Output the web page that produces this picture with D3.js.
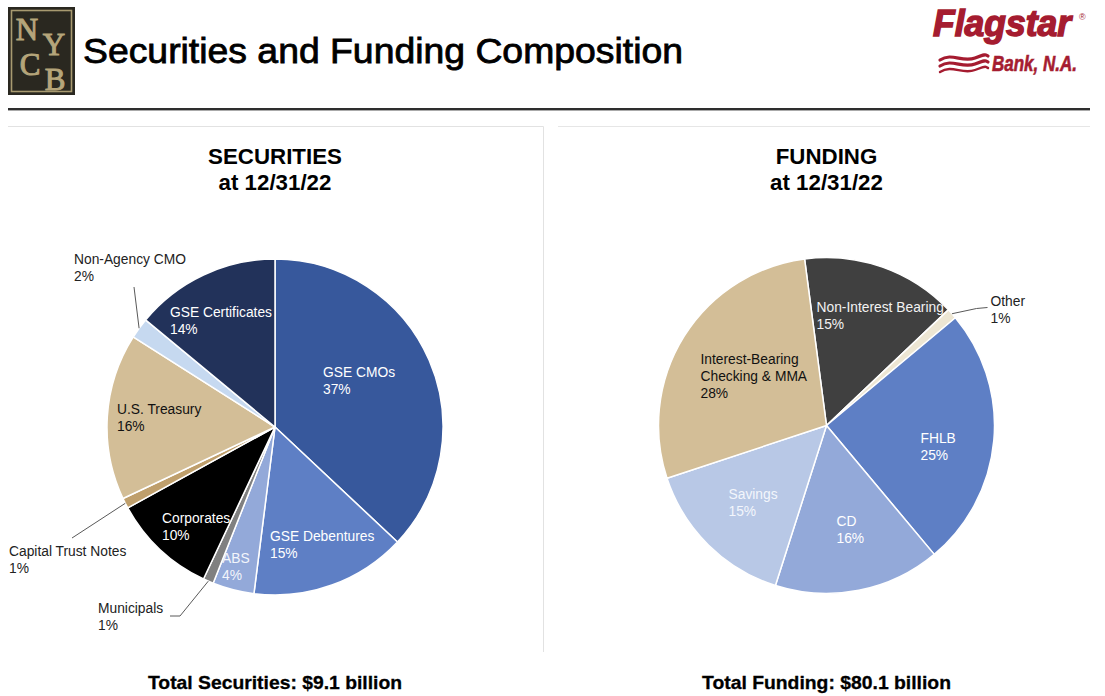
<!DOCTYPE html>
<html><head><meta charset="utf-8">
<script src="https://cdn.jsdelivr.net/npm/d3@7"></script>
<style>
html,body{margin:0;padding:0;background:#fff;}
svg{display:block;font-family:"Liberation Sans",Arial,sans-serif;}
</style></head>
<body>
<svg id="c" width="1105" height="696"></svg>
<script>
// ---------- DATA ----------
const securitiesCategories = ["GSE CMOs","GSE Debentures","ABS","Municipals","Corporates","Capital Trust Notes","U.S. Treasury","Non-Agency CMO","GSE Certificates"];
const securitiesValues = [37,15,4,1,10,1,16,2,14];
const fundingCategories = ["Non-Interest Bearing","Other","FHLB","CD","Savings","Interest-Bearing Checking & MMA"];
const fundingValues = [15,1,25,16,15,28];
const pageTitle = "Securities and Funding Composition";
const securitiesTitle = ["SECURITIES","at 12/31/22"];
const fundingTitle = ["FUNDING","at 12/31/22"];
const securitiesTotal = "Total Securities: $9.1 billion";
const fundingTotal = "Total Funding: $80.1 billion";

// ---------- STYLE / LAYOUT ----------
const secColors = ["#37589c","#5e7fc5","#93a9d9","#808080","#000000","#bf9f6c","#d3be97","#c6d9f0","#22325a"];
const funColors = ["#404040","#ede6d3","#5e7fc5","#93a9d9","#b8c8e6","#d3be97"];
const secLabelColors = ["#fff","#fff","#f2f5fb","#222","#fff","#222","#111","#222","#fff"];
const funLabelColors = ["#f2f2f2","#222","#fff","#fff","#f3f6fc","#111"];
// label text positions relative to pie centre (first baseline), line lists
const secLabelLayout = [
  {dx:48, dy:-50, lines:["GSE CMOs"]},
  {dx:-5, dy:114, lines:["GSE Debentures"]},
  {dx:-53, dy:136, lines:["ABS"]},
  {dx:-177, dy:186, lines:["Municipals"], leader:[[-95,189],[-105,189]]},
  {dx:-113, dy:96, lines:["Corporates"]},
  {dx:-266, dy:129, lines:["Capital Trust Notes"], leader:[[-203,111]]},
  {dx:-158, dy:-13, lines:["U.S. Treasury"]},
  {dx:-201, dy:-163, lines:["Non-Agency CMO"], leader:[[-141,-140]]},
  {dx:-105, dy:-110, lines:["GSE Certificates"]}
];
const funLabelLayout = [
  {dx:-10, dy:-114, lines:["Non-Interest Bearing"]},
  {dx:164, dy:-120, lines:["Other"], leader:[[150,-117],[161,-118]]},
  {dx:94, dy:17, lines:["FHLB"]},
  {dx:10, dy:100, lines:["CD"]},
  {dx:-98, dy:73, lines:["Savings"]},
  {dx:-126, dy:-62, lines:["Interest-Bearing","Checking & MMA"]}
];

const svg = d3.select("#c");

// ---------- HEADER ----------
// NYCB logo (monogram)
const logo = svg.append("g");
logo.append("rect").attr("x",8).attr("y",7).attr("width",67).attr("height",88).attr("fill","#2a2820");
logo.append("rect").attr("x",11.5).attr("y",10.5).attr("width",60).attr("height",81).attr("fill","none").attr("stroke","#a89a70").attr("stroke-width",1.6);
const lg = [["N",27,40],["Y",54,55],["C",30,75],["B",55,90]];
const logoText = logo.append("text").attr("text-anchor","middle")
  .attr("font-family","'Liberation Serif','DejaVu Serif',serif").attr("font-size",31)
  .attr("fill","#b5a57a").attr("stroke","#b5a57a").attr("stroke-width",1);
lg.forEach(d=>logoText.append("tspan").attr("x",d[1]).attr("y",d[2]).text(d[0]));

svg.append("text").attr("x",83).attr("y",63).attr("font-size",35).attr("fill","#000")
  .attr("stroke","#000").attr("stroke-width",0.8)
  .attr("textLength",600).attr("lengthAdjust","spacingAndGlyphs").text(pageTitle);

// Flagstar logo
const red = "#a51c30";
svg.append("text").attr("x",933).attr("y",36).attr("font-size",36).attr("font-weight","bold")
  .attr("font-style","italic").attr("fill",red).attr("stroke",red).attr("stroke-width",1.5)
  .attr("textLength",138).attr("lengthAdjust","spacingAndGlyphs").text("Flagstar");
svg.append("text").attr("x",1079).attr("y",20).attr("font-size",9).attr("fill",red).text("®");
svg.append("text").attr("x",992).attr("y",71).attr("font-size",22).attr("font-weight","bold")
  .attr("font-style","italic").attr("fill",red).attr("stroke",red).attr("stroke-width",0.6)
  .attr("textLength",85).attr("lengthAdjust","spacingAndGlyphs").text("Bank, N.A.");
const waves = [[58,3.2],[64,3.2],[70,2.4]];
waves.forEach(([y,w])=>{
  svg.append("path").attr("d",`M940,${y+2} C952,${y-6} 962,${y+5} 975,${y} S985,${y-3} 988,${y-2}`)
    .attr("fill","none").attr("stroke",red).attr("stroke-width",w).attr("stroke-linecap","round");
});

// header rule
svg.append("line").attr("x1",8).attr("x2",1090).attr("y1",109).attr("y2",109).attr("stroke","#2e2e2e").attr("stroke-width",2);
svg.append("line").attr("x1",8).attr("x2",1090).attr("y1",110.5).attr("y2",110.5).attr("stroke","#aaa").attr("stroke-width",1);

// panel borders
svg.append("path").attr("d","M8,126.5 H543.5 V652").attr("fill","none").attr("stroke","#e2e2e2").attr("stroke-width",1);
svg.append("path").attr("d","M558,126.5 H1090").attr("fill","none").attr("stroke","#e6e6e6").attr("stroke-width",1);

// ---------- PIES ----------
const R = 168;
function drawPie(cx, cy, cats, vals, colors, labelColors, layout, startDeg, title, total, totalWidth){
  const g = svg.append("g").attr("transform",`translate(${cx},${cy})`);
  const start = startDeg*Math.PI/180;
  const pie = d3.pie().sort(null).value(d=>d.v).startAngle(start).endAngle(start+2*Math.PI);
  const data = pie(cats.map((c,i)=>({c, v:vals[i], i})));
  const arc = d3.arc().innerRadius(0).outerRadius(R);
  const edge = d3.arc().innerRadius(R).outerRadius(R);
  g.selectAll("path.s").data(data).join("path").attr("class","s")
    .attr("d",arc).attr("fill",d=>colors[d.data.i]).attr("stroke","#fff").attr("stroke-width",1.5).attr("stroke-linejoin","round");
  // leaders
  data.forEach(d=>{
    const L = layout[d.data.i];
    if(!L.leader) return;
    const p0 = edge.centroid(d);
    const pts = [p0].concat(L.leader);
    g.append("path").attr("d",d3.line()(pts)).attr("fill","none").attr("stroke","#595959").attr("stroke-width",1);
  });
  // labels
  data.forEach(d=>{
    const L = layout[d.data.i];
    const lines = L.lines.concat([Math.round(d.data.v)+"%"]);
    const t = g.append("text").attr("font-size",13.8).attr("fill",labelColors[d.data.i]);
    lines.forEach((ln,k)=>{
      t.append("tspan").attr("x",L.dx).attr("y",L.dy+k*17).text(ln);
    });
  });
  // titles
  svg.append("text").attr("x",cx).attr("y",164).attr("text-anchor","middle").attr("font-size",22.3).attr("font-weight","bold").text(title[0]);
  svg.append("text").attr("x",cx).attr("y",190).attr("text-anchor","middle").attr("font-size",22.3).attr("font-weight","bold").text(title[1]);
  svg.append("text").attr("x",cx).attr("y",689).attr("text-anchor","middle").attr("font-size",19).attr("font-weight","bold")
    .attr("stroke","#000").attr("stroke-width",0.3)
    .attr("textLength",totalWidth).attr("lengthAdjust","spacingAndGlyphs").text(total);
}

drawPie(275, 427, securitiesCategories, securitiesValues, secColors, secLabelColors, secLabelLayout, 0, securitiesTitle, securitiesTotal, 254);
drawPie(826.5, 425.5, fundingCategories, fundingValues, funColors, funLabelColors, funLabelLayout, -7.5, fundingTitle, fundingTotal, 249);
</script>
</body></html>
